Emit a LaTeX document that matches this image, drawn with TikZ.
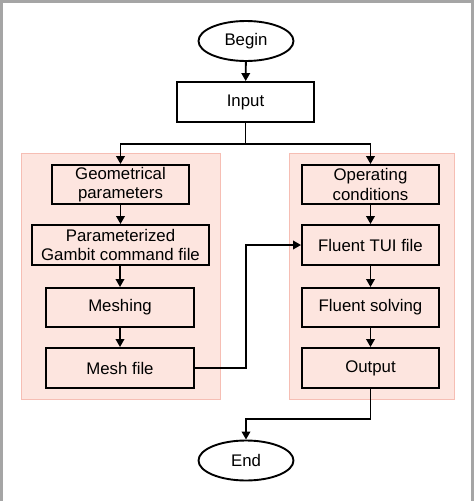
\documentclass[tikz,border=0pt]{standalone}
\usepackage{fontspec}
\setmainfont{Liberation Sans}
\usetikzlibrary{shapes.geometric,arrows.meta}
\definecolor{grpfill}{RGB}{253,229,223}
\definecolor{grpline}{RGB}{246,190,180}
\definecolor{framegray}{RGB}{165,165,165}
\begin{document}
\begin{tikzpicture}[x=1pt,y=-1pt,
  txt/.style={font=\fontsize{16.8}{19.5}\selectfont, align=center, inner sep=0pt},
  box/.style={txt, draw=black, line width=1.9pt, rectangle, fill=grpfill},
  term/.style={txt, draw=black, line width=1.9pt, ellipse, fill=white, minimum width=95pt, minimum height=40pt},
  grp/.style={draw=grpline, line width=1pt, fill=grpfill},
  conn/.style={draw=black, line width=1.9pt},
  arr/.style={conn, -{Triangle[length=8pt,width=8.5pt]}}
]
\useasboundingbox (0,0) rectangle (474,501);
\fill[white] (0,0) rectangle (474,501);
% outer frame
\fill[framegray] (0,0) rectangle (474,3);
\fill[framegray] (0,0) rectangle (2.5,501);
\fill[framegray] (471,0) rectangle (474,501);
% groups
\draw[grp] (21,153) rectangle (220,399);
\draw[grp] (289,153) rectangle (454,399);
% nodes
\node[term] (begin) at (246,41) {Begin};
\node[box, fill=white, minimum width=137pt, minimum height=40pt] (input) at (245.5,102) {Input};
\node[box, minimum width=137pt, minimum height=39pt] (geo) at (120.5,184.5) {Geometrical\\parameters};
\node[box, minimum width=177pt, minimum height=40pt] (param) at (120.5,245) {Parameterized\\Gambit command file};
\node[box, minimum width=148pt, minimum height=39pt] (mesh) at (120,307.5) {Meshing};
\node[box, minimum width=148pt, minimum height=40pt] (meshfile) at (120,368) {Mesh file};
\node[box, minimum width=137pt, minimum height=39pt] (op) at (370.5,184.5) {Operating\\conditions};
\node[box, minimum width=137pt, minimum height=40pt] (tui) at (370.5,245) {Fluent TUI file};
\node[box, minimum width=137pt, minimum height=39pt] (solve) at (370.5,307.5) {Fluent solving};
\node[box, minimum width=137pt, minimum height=40pt] (out) at (370.5,368) {Output};
\node[term] (end) at (246,460.5) {End};
\coordinate (split) at (245.5,144);
\coordinate (mfturn1) at (246,368);
\coordinate (mfturn2) at (246,245);
\coordinate (outturn1) at (370.5,419);
\coordinate (outturn2) at (246,419);
% connectors
\draw[arr] (begin) -- (input);
\draw[conn] (input.south) -- (split);
\draw[arr] (split) -| (geo.north);
\draw[arr] (split) -| (op.north);
\draw[arr] (geo) -- (param);
\draw[arr] (param.south -| mesh.north) -- (mesh.north);
\draw[arr] (mesh) -- (meshfile);
\draw[arr] (op) -- (tui);
\draw[arr] (tui) -- (solve);
\draw[arr] (solve) -- (out);
\draw[arr] (meshfile.east) -- (mfturn1) -- (mfturn2) -- (tui.west);
\draw[arr] (out.south) -- (outturn1) -- (outturn2) -- (end.north);
\end{tikzpicture}
\end{document}
